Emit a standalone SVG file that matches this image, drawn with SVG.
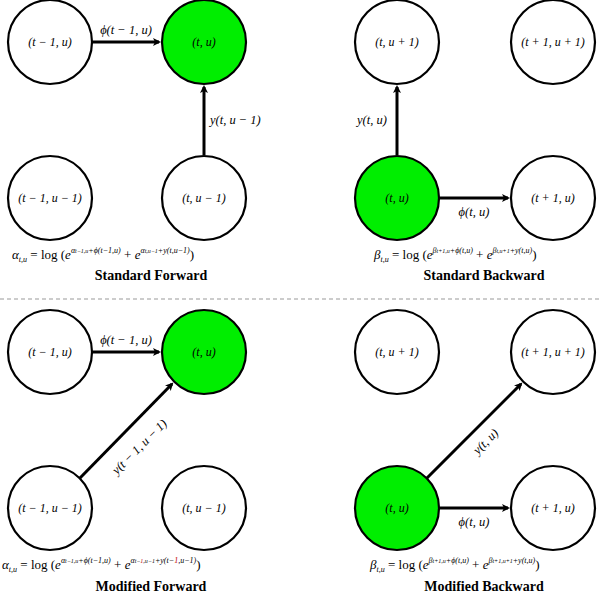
<svg xmlns="http://www.w3.org/2000/svg" width="600" height="594" viewBox="0 0 600 594">
<style>
.n{fill:#fff;stroke:#000;stroke-width:2.2}
.g{fill:#00ee00}
.t{font-family:"Liberation Serif",serif;font-style:italic;font-size:12px;text-anchor:middle}
.l{font-family:"Liberation Serif",serif;font-style:italic;font-size:12.5px}
.f{font-family:"Liberation Serif",serif;font-size:13px}
.s{font-size:8px;font-style:italic}
.h{font-family:"Liberation Serif",serif;font-weight:bold;font-size:14px;text-anchor:middle}
.e line{stroke:#000;stroke-width:3;marker-end:url(#a)}
</style>
<defs><marker id="a" markerWidth="8" markerHeight="8" refX="6" refY="4" orient="auto" markerUnits="userSpaceOnUse" viewBox="0 0 8 8"><path d="M0,0L8,4L0,8L2,4z" fill="#000"/></marker></defs>
<rect width="600" height="594" fill="#fff"/>
<g id="sf1"><circle class="n" cx="50" cy="42" r="42"/><text class="t" x="50" y="46">(t − 1, u)</text></g>
<g id="sf2"><circle class="n g" cx="204" cy="42" r="42"/><text class="t" x="204" y="46">(t, u)</text></g>
<g id="sf3"><circle class="n" cx="50" cy="198" r="42"/><text class="t" x="50" y="202">(t − 1, u − 1)</text></g>
<g id="sf4"><circle class="n" cx="204" cy="198" r="42"/><text class="t" x="204" y="202">(t, u − 1)</text></g>
<g id="sb1"><circle class="n" cx="397" cy="42" r="42"/><text class="t" x="397" y="46">(t, u + 1)</text></g>
<g id="sb2"><circle class="n" cx="553" cy="42" r="42"/><text class="t" x="553" y="46">(t + 1, u + 1)</text></g>
<g id="sb3"><circle class="n g" cx="397" cy="198" r="42"/><text class="t" x="397" y="202">(t, u)</text></g>
<g id="sb4"><circle class="n" cx="553" cy="198" r="42"/><text class="t" x="553" y="202">(t + 1, u)</text></g>
<g id="mf1"><circle class="n" cx="50" cy="352" r="42"/><text class="t" x="50" y="356">(t − 1, u)</text></g>
<g id="mf2"><circle class="n g" cx="204" cy="352" r="42"/><text class="t" x="204" y="356">(t, u)</text></g>
<g id="mf3"><circle class="n" cx="50" cy="508" r="42"/><text class="t" x="50" y="512">(t − 1, u − 1)</text></g>
<g id="mf4"><circle class="n" cx="204" cy="508" r="42"/><text class="t" x="204" y="512">(t, u − 1)</text></g>
<g id="mb1"><circle class="n" cx="397" cy="352" r="42"/><text class="t" x="397" y="356">(t, u + 1)</text></g>
<g id="mb2"><circle class="n" cx="553" cy="352" r="42"/><text class="t" x="553" y="356">(t + 1, u + 1)</text></g>
<g id="mb3"><circle class="n g" cx="397" cy="508" r="42"/><text class="t" x="397" y="512">(t, u)</text></g>
<g id="mb4"><circle class="n" cx="553" cy="508" r="42"/><text class="t" x="553" y="512">(t + 1, u)</text></g>
<g class="e" id="edges">
<line x1="93" y1="42" x2="159" y2="42"/>
<line x1="204" y1="155" x2="204" y2="87"/>
<line x1="397" y1="155" x2="397" y2="87"/>
<line x1="440" y1="198" x2="508" y2="198"/>
<line x1="93" y1="352" x2="159" y2="352"/>
<line x1="80" y1="478" x2="172" y2="384"/>
<line x1="427" y1="478" x2="521" y2="384"/>
<line x1="440" y1="508" x2="508" y2="508"/>
</g>
<g id="labels">
<text class="l" x="126" y="34" text-anchor="middle">ϕ(t − 1, u)</text>
<text class="l" x="210" y="124">y(t, u − 1)</text>
<text class="l" x="357" y="124">y(t, u)</text>
<text class="l" x="474" y="216" text-anchor="middle">ϕ(t, u)</text>
<text class="l" x="126" y="344" text-anchor="middle">ϕ(t − 1, u)</text>
<text class="l" x="0" y="0" transform="translate(117,475) rotate(-45)">y(t − 1, u − 1)</text>
<text class="l" x="0" y="0" transform="translate(478,455) rotate(-45)">y(t, u)</text>
<text class="l" x="474" y="526" text-anchor="middle">ϕ(t, u)</text>
</g>
<g id="formulas">
<text class="f" x="12" y="259"><tspan font-style="italic">α</tspan><tspan class="s" dy="3">t,u</tspan><tspan dy="-3"> = log (</tspan><tspan font-style="italic">e</tspan><tspan class="s" dy="-6">α<tspan font-size="6">t−1,u</tspan>+ϕ(t−1,u)</tspan><tspan dy="6"> + </tspan><tspan font-style="italic">e</tspan><tspan class="s" dy="-6">α<tspan font-size="6">t,u−1</tspan>+y(t,u−1)</tspan><tspan dy="6">)</tspan></text>
<text class="f" x="374" y="259"><tspan font-style="italic">β</tspan><tspan class="s" dy="3">t,u</tspan><tspan dy="-3"> = log (</tspan><tspan font-style="italic">e</tspan><tspan class="s" dy="-6">β<tspan font-size="6">t+1,u</tspan>+ϕ(t,u)</tspan><tspan dy="6"> + </tspan><tspan font-style="italic">e</tspan><tspan class="s" dy="-6">β<tspan font-size="6">t,u+1</tspan>+y(t,u)</tspan><tspan dy="6">)</tspan></text>
<text class="f" x="2" y="569"><tspan font-style="italic">α</tspan><tspan class="s" dy="3">t,u</tspan><tspan dy="-3"> = log (</tspan><tspan font-style="italic">e</tspan><tspan class="s" dy="-6">α<tspan font-size="6">t−1,u</tspan>+ϕ(t−1,u)</tspan><tspan dy="6"> + </tspan><tspan font-style="italic">e</tspan><tspan class="s" dy="-6">α<tspan font-size="6">t−<tspan fill="#c00000">1</tspan>,u−1</tspan>+y(t−<tspan fill="#c00000">1</tspan>,u−1)</tspan><tspan dy="6">)</tspan></text>
<text class="f" x="370" y="569"><tspan font-style="italic">β</tspan><tspan class="s" dy="3">t,u</tspan><tspan dy="-3"> = log (</tspan><tspan font-style="italic">e</tspan><tspan class="s" dy="-6">β<tspan font-size="6">t+1,u</tspan>+ϕ(t,u)</tspan><tspan dy="6"> + </tspan><tspan font-style="italic">e</tspan><tspan class="s" dy="-6">β<tspan font-size="6">t+1,u+1</tspan>+y(t,u)</tspan><tspan dy="6">)</tspan></text>
</g>
<text class="h" x="151" y="280">Standard Forward</text>
<text class="h" x="484" y="280">Standard Backward</text>
<text class="h" x="151" y="591" font-weight="normal">Modified Forward</text>
<text class="h" x="484" y="591" font-weight="normal">Modified Backward</text>
<line x1="0" y1="299" x2="600" y2="299" stroke="#999" stroke-dasharray="4,3"/>
</svg>
